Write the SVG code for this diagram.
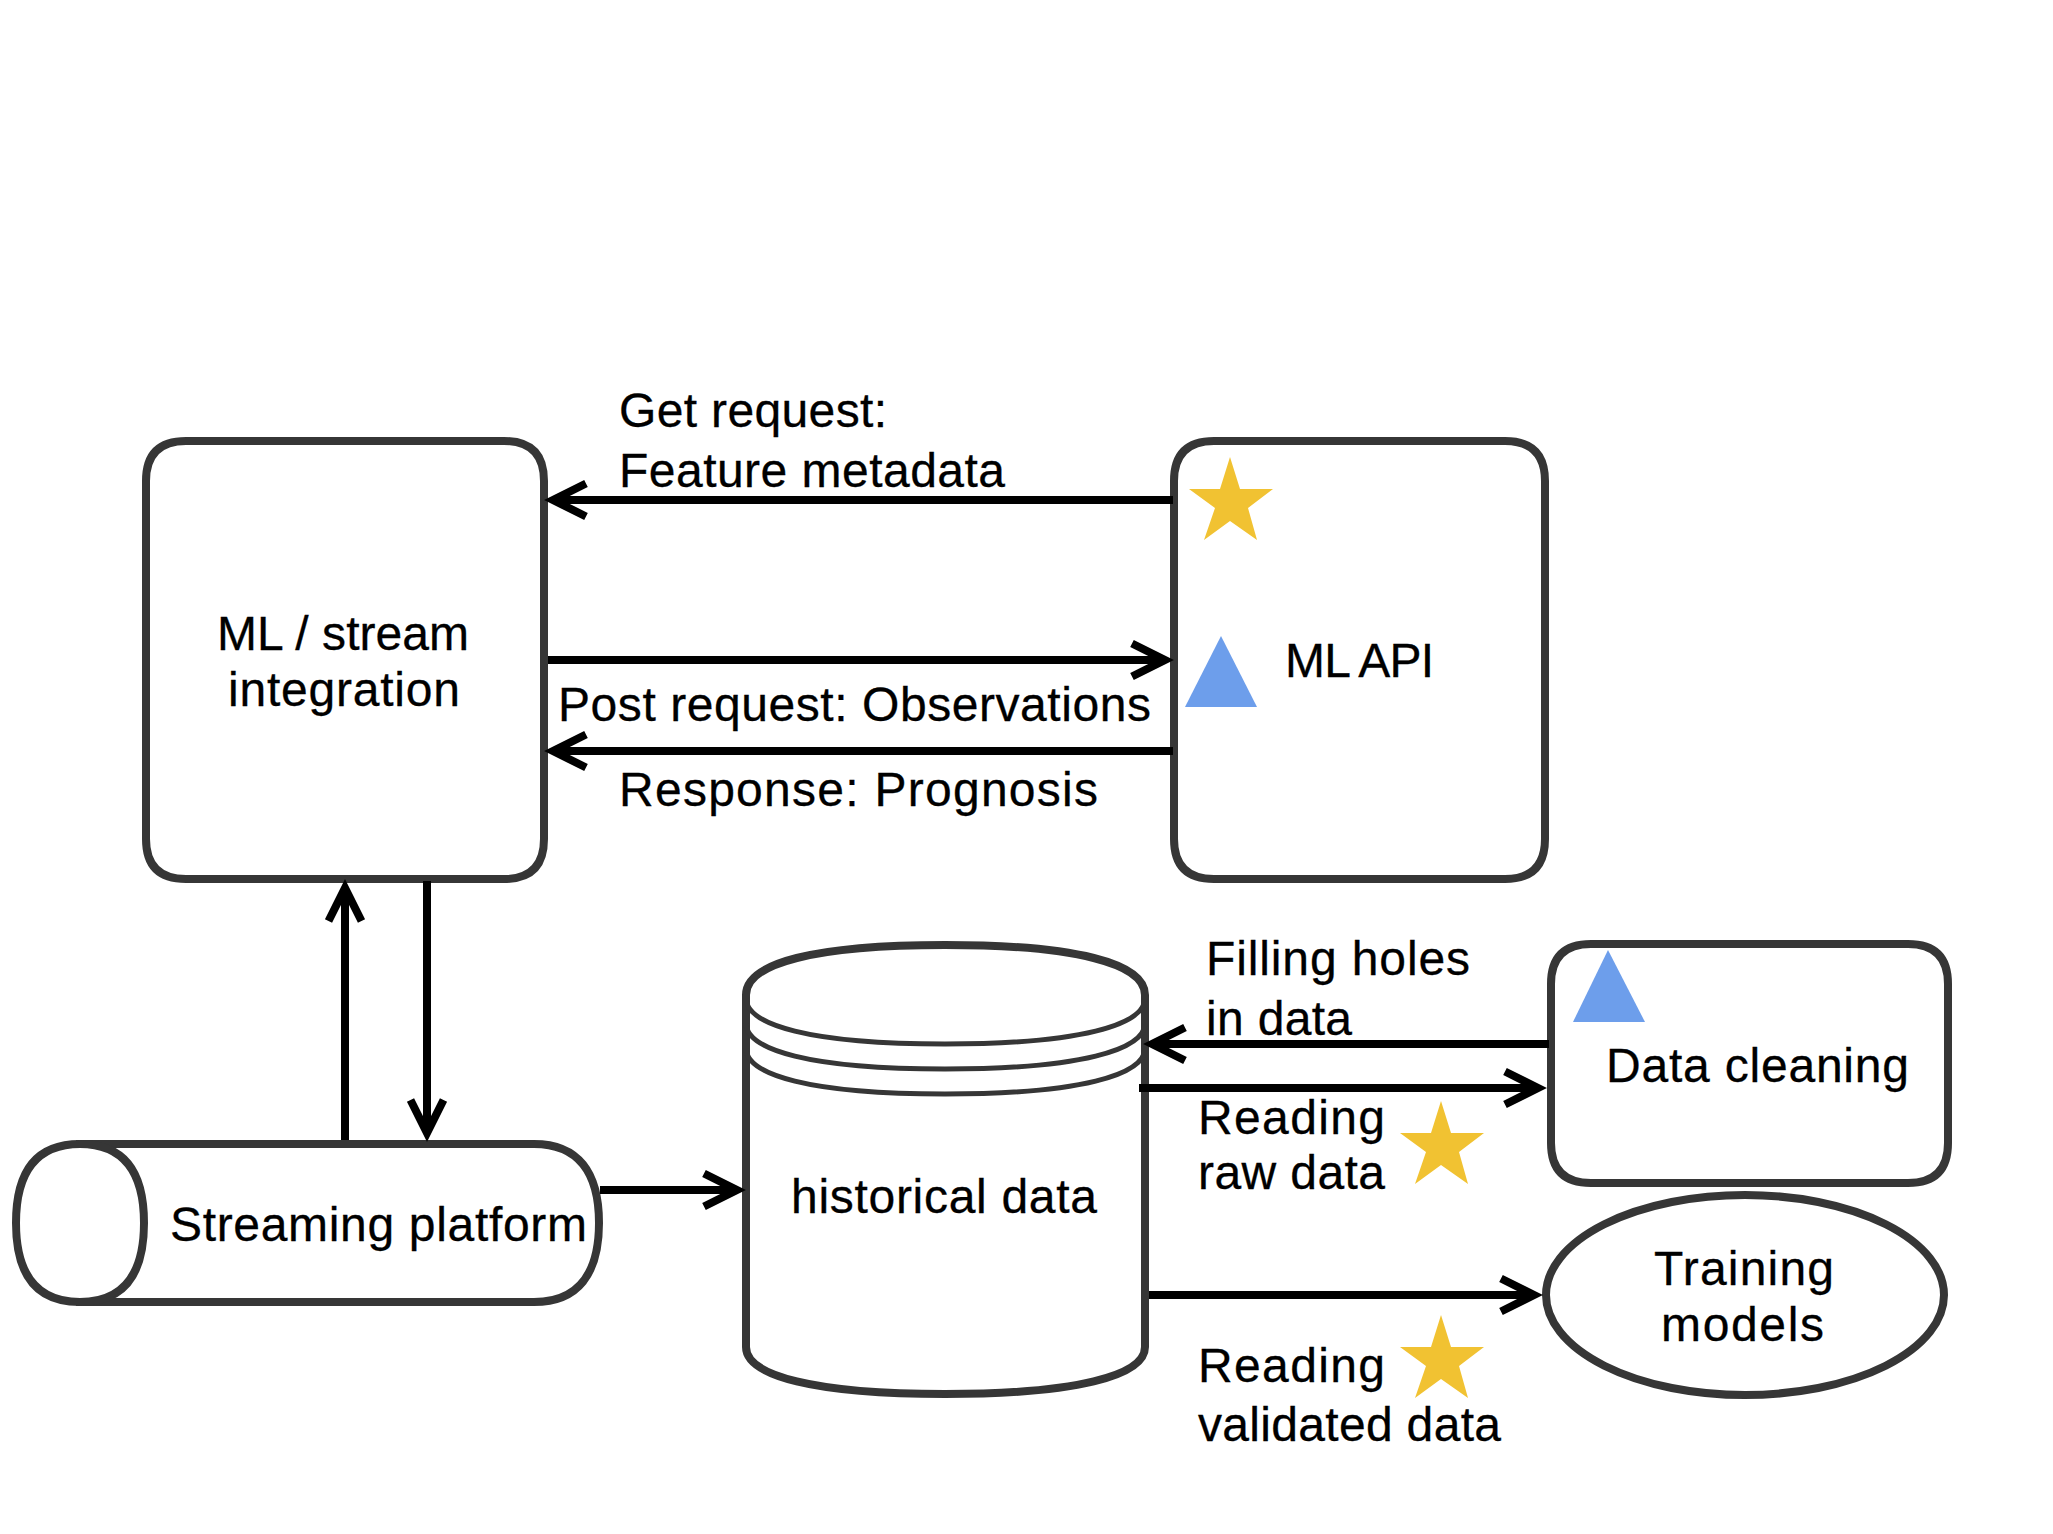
<svg xmlns="http://www.w3.org/2000/svg" width="2053" height="1534" viewBox="0 0 2053 1534">
<style>
.s{fill:#fff;stroke:#363636;stroke-width:8}
.t{fill:none;stroke:#363636;stroke-width:5}
.c{fill:none;stroke:#000;stroke-width:8;marker-end:url(#a)}
.y{fill:#f1c232}
.b{fill:#6d9eeb}
text{font-family:"Liberation Sans",Arial,sans-serif;font-size:48px;fill:#000;stroke:#000;stroke-width:.3}
</style>
<defs>
<marker id="a" markerUnits="userSpaceOnUse" markerWidth="60" markerHeight="60" viewBox="-50 -30 60 60" refX="0" refY="0" orient="auto" overflow="visible">
<path d="M-33,-16.5 L0,0 L-33,16.5" fill="none" stroke="#000" stroke-width="8" stroke-miterlimit="10"/>
</marker>
<polygon id="star" points="1230,457 1240,489 1273,489 1248,508 1257,540 1230,521 1204,540 1215,508 1189,489 1220,489"/>
</defs>
<rect width="2053" height="1534" fill="#fff"/>
<g id="ml-stream">
<path class="s" d="M186,441 H504 Q544,441 544,481 V839 Q544,879 504,879 H186 Q146,879 146,839 V481 Q146,441 186,441 Z"/>
<text x="217" y="650" textLength="252">ML / stream</text>
<text x="228" y="706" textLength="232">integration</text>
</g>
<g id="ml-api">
<path class="s" d="M1214,441 H1505 Q1545,441 1545,481 V839 Q1545,879 1505,879 H1214 Q1174,879 1174,839 V481 Q1174,441 1214,441 Z"/>
<use href="#star" class="y"/>
<polygon class="b" points="1221,636 1257,707 1185,707"/>
<text x="1285" y="677" textLength="149">ML API</text>
</g>
<g id="streaming">
<path class="s" d="M80,1144 H534 C578,1144 599,1172 599,1223 C599,1274 578,1302 534,1302 H80 Z"/>
<path class="s" d="M16,1223 C16,1172 36,1144 80,1144 C124,1144 144,1172 144,1223 C144,1274 124,1302 80,1302 C36,1302 16,1274 16,1223 Z"/>
<text x="170" y="1241" textLength="417">Streaming platform</text>
</g>
<g id="historical">
<path class="s" d="M746,995 C746,963 815,945 945,945 C1075,945 1145,963 1145,995 V1347 C1145,1376 1075,1394 945,1394 C815,1394 746,1376 746,1347 Z"/>
<path class="t" d="M746,998 C746,1025 810,1044 945,1044 C1080,1044 1145,1025 1145,998"/>
<path class="t" d="M746,1023 C746,1050 810,1069 945,1069 C1080,1069 1145,1050 1145,1023"/>
<path class="t" d="M746,1048 C746,1075 810,1094 945,1094 C1080,1094 1145,1075 1145,1048"/>
<text x="791" y="1213" textLength="306">historical data</text>
</g>
<g id="cleaning">
<path class="s" d="M1591,944 H1908 Q1948,944 1948,984 V1143 Q1948,1183 1908,1183 H1591 Q1551,1183 1551,1143 V984 Q1551,944 1591,944 Z"/>
<polygon class="b" points="1608,950 1645,1022 1573,1022"/>
<text x="1606" y="1082" textLength="303">Data cleaning</text>
</g>
<g id="training">
<ellipse class="s" cx="1745" cy="1295" rx="199" ry="100"/>
<text x="1654" y="1285" textLength="180">Training</text>
<text x="1661" y="1341" textLength="163">models</text>
</g>
<g id="connectors">
<path class="c" d="M1173,500 H553"/>
<path class="c" d="M548,660 H1165"/>
<path class="c" d="M1173,751 H553"/>
<path class="c" d="M345,1140 V888"/>
<path class="c" d="M427,881 V1133"/>
<path class="c" d="M600,1190 H737"/>
<path class="c" d="M1549,1044 H1152"/>
<path class="c" d="M1139,1088 H1538"/>
<path class="c" d="M1149,1295 H1534"/>
</g>
<g id="labels">
<text x="619" y="427" textLength="268">Get request:</text>
<text x="619" y="487" textLength="386">Feature metadata</text>
<text x="558" y="721" textLength="593">Post request: Observations</text>
<text x="619" y="806" textLength="479">Response: Prognosis</text>
<text x="1206" y="975" textLength="264">Filling holes</text>
<text x="1206" y="1035" textLength="146">in data</text>
<text x="1198" y="1134" textLength="187">Reading</text>
<text x="1198" y="1189" textLength="187">raw data</text>
<text x="1198" y="1382" textLength="187">Reading</text>
<text x="1198" y="1441" textLength="303">validated data</text>
<use href="#star" class="y" x="211" y="644"/>
<use href="#star" class="y" x="211" y="858"/>
</g>
</svg>
